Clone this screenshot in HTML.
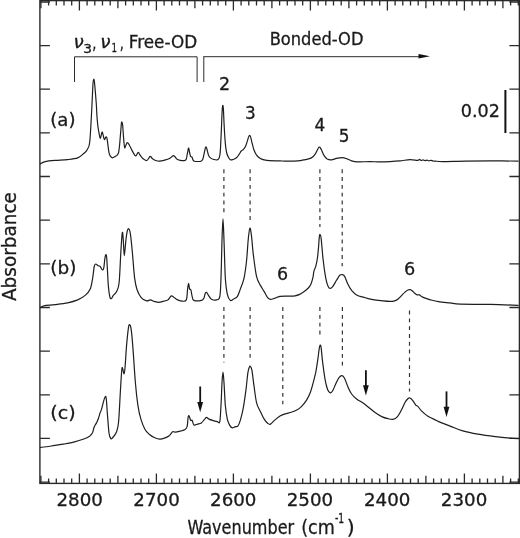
<!DOCTYPE html>
<html><head><meta charset="utf-8"><title>IR spectra</title>
<style>html,body{margin:0;padding:0;background:#fff}svg{display:block}</style></head>
<body><svg width="520" height="538" viewBox="0 0 520 538">
<rect width="520" height="538" fill="#fff"/>
<rect x="39.9" y="0.6" width="479.5" height="482.8" fill="none" stroke="#2a2a2a" stroke-width="1.4"/>
<path d="M518.3 483.4v-5M518.3 0.6v5M510.6 483.4v-5M510.6 0.6v5M502.9 483.4v-7.6M502.9 0.6v7.6M495.2 483.4v-5M495.2 0.6v5M487.5 483.4v-5M487.5 0.6v5M479.8 483.4v-5M479.8 0.6v5M472.1 483.4v-5M472.1 0.6v5M464.4 483.4v-10M464.4 0.6v10M456.7 483.4v-5M456.7 0.6v5M449.0 483.4v-5M449.0 0.6v5M441.3 483.4v-5M441.3 0.6v5M433.6 483.4v-5M433.6 0.6v5M425.9 483.4v-7.6M425.9 0.6v7.6M418.2 483.4v-5M418.2 0.6v5M410.5 483.4v-5M410.5 0.6v5M402.8 483.4v-5M402.8 0.6v5M395.1 483.4v-5M395.1 0.6v5M387.4 483.4v-10M387.4 0.6v10M379.7 483.4v-5M379.7 0.6v5M372.0 483.4v-5M372.0 0.6v5M364.3 483.4v-5M364.3 0.6v5M356.6 483.4v-5M356.6 0.6v5M348.9 483.4v-7.6M348.9 0.6v7.6M341.2 483.4v-5M341.2 0.6v5M333.5 483.4v-5M333.5 0.6v5M325.8 483.4v-5M325.8 0.6v5M318.1 483.4v-5M318.1 0.6v5M310.4 483.4v-10M310.4 0.6v10M302.7 483.4v-5M302.7 0.6v5M295.0 483.4v-5M295.0 0.6v5M287.3 483.4v-5M287.3 0.6v5M279.6 483.4v-5M279.6 0.6v5M271.9 483.4v-7.6M271.9 0.6v7.6M264.2 483.4v-5M264.2 0.6v5M256.5 483.4v-5M256.5 0.6v5M248.8 483.4v-5M248.8 0.6v5M241.1 483.4v-5M241.1 0.6v5M233.4 483.4v-10M233.4 0.6v10M225.7 483.4v-5M225.7 0.6v5M218.0 483.4v-5M218.0 0.6v5M210.3 483.4v-5M210.3 0.6v5M202.6 483.4v-5M202.6 0.6v5M194.9 483.4v-7.6M194.9 0.6v7.6M187.2 483.4v-5M187.2 0.6v5M179.5 483.4v-5M179.5 0.6v5M171.8 483.4v-5M171.8 0.6v5M164.1 483.4v-5M164.1 0.6v5M156.4 483.4v-10M156.4 0.6v10M148.7 483.4v-5M148.7 0.6v5M141.0 483.4v-5M141.0 0.6v5M133.3 483.4v-5M133.3 0.6v5M125.6 483.4v-5M125.6 0.6v5M117.9 483.4v-7.6M117.9 0.6v7.6M110.2 483.4v-5M110.2 0.6v5M102.5 483.4v-5M102.5 0.6v5M94.8 483.4v-5M94.8 0.6v5M87.1 483.4v-5M87.1 0.6v5M79.4 483.4v-10M79.4 0.6v10M71.7 483.4v-5M71.7 0.6v5M64.0 483.4v-5M64.0 0.6v5M56.3 483.4v-5M56.3 0.6v5M48.6 483.4v-5M48.6 0.6v5M40.9 483.4v-7.6M40.9 0.6v7.6M39.9 2.0h10M519.4 2.0h-10M39.9 45.6h10M519.4 45.6h-10M39.9 89.2h10M519.4 89.2h-10M39.9 132.9h10M519.4 132.9h-10M39.9 176.5h10M519.4 176.5h-10M39.9 220.2h10M519.4 220.2h-10M39.9 263.9h10M519.4 263.9h-10M39.9 307.5h10M519.4 307.5h-10M39.9 351.2h10M519.4 351.2h-10M39.9 394.8h10M519.4 394.8h-10M39.9 438.4h10M519.4 438.4h-10M39.9 482.1h10M519.4 482.1h-10" stroke="#2a2a2a" stroke-width="1.3" fill="none"/>
<path d="M40.0 164.1C40.8 163.7 42.5 162.2 45.0 161.6C47.5 161.0 51.3 160.7 55.1 160.4C58.9 160.1 63.8 160.0 67.6 159.6C71.4 159.2 75.0 158.9 77.7 157.9C80.4 156.9 82.4 154.7 84.0 153.3C85.6 151.9 86.3 151.4 87.3 149.4C88.3 147.4 89.1 148.0 89.8 141.5C90.5 135.0 91.2 119.6 91.7 110.2C92.2 100.8 92.6 90.2 92.9 85.0C93.2 79.8 93.5 79.3 93.8 79.2C94.1 79.1 94.3 80.4 94.7 84.5C95.1 88.6 95.9 98.6 96.3 104.0C96.7 109.4 96.7 113.0 97.0 116.7C97.3 120.4 97.6 123.5 97.9 126.2C98.2 128.9 98.6 130.9 99.0 132.9C99.4 134.9 99.9 138.4 100.4 138.3C100.9 138.2 101.5 132.8 102.0 132.2C102.5 131.6 102.7 133.7 103.1 134.9C103.5 136.1 103.9 139.3 104.4 139.6C104.9 139.9 105.5 137.0 106.0 136.9C106.5 136.8 106.8 137.3 107.1 138.9C107.4 140.5 107.8 143.9 108.1 146.3C108.4 148.7 108.7 151.4 109.1 153.1C109.5 154.8 109.9 155.6 110.5 156.4C111.1 157.2 111.7 157.8 112.5 157.8C113.3 157.8 114.4 156.9 115.2 156.4C116.0 155.9 116.6 155.8 117.2 155.1C117.8 154.4 118.2 154.1 118.6 152.4C119.0 150.7 119.3 148.2 119.6 145.0C119.9 141.8 120.3 136.5 120.6 132.9C120.9 129.3 121.2 125.3 121.4 123.5C121.6 121.7 121.7 121.9 121.9 122.1C122.1 122.3 122.3 122.3 122.6 124.8C122.9 127.3 123.2 133.1 123.5 136.9C123.8 140.7 124.2 145.9 124.6 147.4C125.0 148.9 125.2 146.5 125.7 145.7C126.2 144.9 126.7 142.7 127.3 142.6C127.9 142.5 128.5 143.7 129.3 145.0C130.1 146.3 131.1 148.7 132.0 150.4C132.9 152.1 134.0 154.2 134.7 155.1C135.4 156.0 135.4 156.2 136.0 155.8C136.6 155.4 137.6 152.5 138.3 152.4C139.0 152.3 139.3 154.1 140.1 155.1C140.8 156.1 141.7 157.6 142.8 158.5C143.9 159.4 145.6 160.8 146.8 160.5C148.0 160.2 149.3 156.7 150.2 156.4C151.1 156.1 151.3 157.8 152.2 158.5C153.1 159.2 154.4 160.1 155.6 160.5C156.8 160.9 158.0 161.2 159.6 161.1C161.2 161.0 163.8 160.3 165.4 159.9C167.0 159.5 168.3 159.1 169.4 158.5C170.5 157.9 171.4 157.0 172.1 156.5C172.8 156.0 173.1 155.6 173.5 155.6C173.9 155.6 174.2 155.9 174.8 156.5C175.4 157.1 175.9 158.4 176.8 159.0C177.7 159.6 179.0 160.0 180.2 160.3C181.4 160.6 183.2 160.8 184.2 160.6C185.2 160.4 185.7 160.3 186.2 159.2C186.7 158.1 187.0 155.6 187.3 153.8C187.7 152.1 188.1 149.6 188.3 148.7C188.6 147.8 188.6 147.9 188.8 148.5C189.0 149.1 189.3 151.2 189.6 152.5C189.9 153.8 190.3 155.7 190.7 156.5C191.1 157.3 191.6 156.6 192.0 157.2C192.4 157.8 192.6 159.2 193.0 159.9C193.4 160.6 193.5 160.9 194.3 161.2C195.1 161.5 196.6 161.5 197.7 161.5C198.8 161.5 200.2 161.6 201.0 161.2C201.8 160.8 202.3 160.4 202.8 159.2C203.3 158.0 203.7 155.7 204.1 153.8C204.5 151.9 205.1 148.9 205.4 147.8C205.8 146.7 205.9 146.8 206.2 147.1C206.5 147.4 206.7 148.5 207.1 149.8C207.5 151.2 207.9 153.8 208.5 155.2C209.1 156.5 209.6 157.2 210.5 157.9C211.4 158.6 212.7 159.2 213.8 159.5C214.9 159.8 216.3 160.2 217.2 159.9C218.1 159.6 218.7 159.4 219.2 157.9C219.7 156.4 220.0 155.2 220.3 151.1C220.6 147.0 220.9 139.4 221.2 133.6C221.5 127.8 221.7 120.8 221.9 116.2C222.1 111.6 222.4 107.4 222.6 106.1C222.8 104.8 223.1 105.1 223.3 108.1C223.6 111.1 223.8 118.4 224.1 124.2C224.4 130.0 224.9 138.4 225.3 143.1C225.7 147.8 226.1 150.2 226.6 152.5C227.1 154.8 227.8 156.0 228.4 157.2C229.0 158.4 229.6 159.4 230.4 159.8C231.2 160.2 232.1 159.8 233.1 159.5C234.1 159.2 235.4 158.7 236.4 157.8C237.4 157.0 238.3 155.5 239.1 154.4C239.9 153.3 240.5 151.8 241.2 151.0C241.9 150.2 242.5 150.4 243.2 149.7C243.9 149.0 244.5 148.3 245.2 147.0C245.9 145.7 246.6 143.3 247.2 141.6C247.8 139.9 248.2 137.9 248.6 136.9C249.0 135.9 249.3 135.3 249.6 135.3C249.9 135.3 250.2 135.7 250.6 136.9C251.0 138.1 251.3 140.2 251.9 142.3C252.5 144.4 253.1 147.6 253.9 149.7C254.7 151.8 255.6 153.7 256.6 155.1C257.6 156.5 258.8 157.4 260.0 158.2C261.2 159.0 262.4 159.4 264.0 159.8C265.6 160.2 266.7 160.5 269.4 160.7C272.1 160.9 277.4 160.8 280.0 160.9C282.6 161.0 282.1 161.1 285.0 161.1C287.9 161.1 294.2 161.2 297.6 160.9C301.0 160.7 302.8 160.1 305.1 159.6C307.4 159.1 309.7 158.8 311.4 157.9C313.1 157.0 314.1 155.7 315.2 154.1C316.3 152.5 317.4 149.5 318.2 148.3C318.9 147.1 319.2 146.8 319.7 147.1C320.2 147.3 320.7 148.4 321.4 149.8C322.1 151.2 323.0 153.9 324.0 155.4C325.0 156.9 325.9 158.3 327.2 159.1C328.4 159.8 329.9 160.0 331.5 159.9C333.1 159.8 334.7 158.8 336.5 158.4C338.3 158.0 340.6 157.6 342.3 157.6C344.0 157.6 344.9 158.0 346.5 158.6C348.1 159.2 349.7 160.3 351.6 160.9C353.5 161.5 354.7 161.8 357.8 161.9C360.9 162.0 367.0 161.6 370.4 161.6C373.8 161.6 374.6 161.9 377.9 161.9C381.2 161.9 386.3 161.8 390.0 161.6C393.7 161.4 396.7 161.2 400.0 160.9C403.3 160.6 407.1 159.7 410.0 159.6C412.9 159.5 416.0 160.4 417.6 160.4C419.2 160.4 419.0 159.3 419.6 159.3C420.2 159.3 420.4 160.4 421.0 160.5C421.6 160.6 422.3 159.9 423.0 159.9C423.7 159.9 424.3 160.7 425.0 160.7C425.7 160.7 426.3 160.1 427.0 160.1C427.7 160.1 428.3 160.8 429.0 160.8C429.7 160.8 430.3 160.3 431.0 160.3C431.7 160.3 432.3 160.9 433.0 161.0C433.7 161.1 433.6 161.0 435.2 161.1C436.8 161.2 437.7 161.6 442.7 161.6C447.7 161.6 457.4 161.2 465.3 161.1C473.2 161.0 481.5 160.9 490.4 160.9C499.3 160.9 513.8 161.1 518.5 161.1" stroke="#1e1e1e" stroke-width="1.2" fill="none" stroke-linejoin="round"/>
<path d="M40.0 307.9C40.6 307.6 41.3 306.4 43.8 305.9C46.3 305.4 51.1 305.2 55.1 304.7C59.1 304.2 63.8 303.7 67.6 302.9C71.4 302.1 74.8 301.1 77.7 299.9C80.6 298.6 83.1 297.2 85.2 295.4C87.3 293.6 89.0 292.0 90.2 289.1C91.5 286.2 92.0 281.6 92.7 277.8C93.4 274.0 93.7 268.8 94.2 266.5C94.7 264.2 95.0 264.1 95.7 264.0C96.4 263.9 97.5 265.4 98.3 265.8C99.1 266.2 99.6 265.8 100.3 266.5C101.0 267.2 101.7 269.6 102.3 269.8C102.9 270.0 103.4 269.6 103.8 267.8C104.2 266.0 104.5 261.2 104.8 259.0C105.1 256.8 105.5 254.7 105.8 254.7C106.1 254.7 106.4 253.9 106.8 259.0C107.2 264.1 107.8 279.1 108.3 285.4C108.8 291.7 109.3 294.4 109.8 296.6C110.3 298.8 110.7 298.9 111.3 298.7C111.9 298.5 112.4 296.6 113.3 295.4C114.2 294.2 115.6 293.7 116.6 291.6C117.6 289.5 118.4 289.3 119.1 282.8C119.8 276.3 120.3 261.1 120.8 252.7C121.3 244.3 121.9 234.8 122.3 232.7C122.7 230.6 123.0 236.4 123.3 240.2C123.6 244.0 123.9 255.7 124.3 255.7C124.7 255.7 125.4 244.4 125.9 240.2C126.4 236.0 126.9 232.6 127.4 230.7C127.9 228.8 128.4 228.4 128.9 228.9C129.4 229.4 129.8 229.9 130.4 233.9C131.0 237.9 131.7 245.4 132.4 252.7C133.1 260.0 133.8 271.7 134.6 277.8C135.4 283.9 135.9 286.2 137.0 289.5C138.1 292.8 139.4 295.4 141.0 297.3C142.6 299.2 144.9 300.5 146.5 300.9C148.1 301.3 149.2 299.8 150.5 299.9C151.8 300.0 152.8 301.0 154.2 301.4C155.6 301.8 157.2 302.4 158.8 302.4C160.4 302.4 162.2 301.6 163.8 301.2C165.4 300.8 166.8 300.6 168.1 299.7C169.3 298.8 170.4 296.3 171.3 295.9C172.2 295.5 172.8 296.5 173.8 297.2C174.9 297.9 176.1 299.2 177.6 299.9C179.1 300.6 181.1 301.2 182.6 301.2C184.1 301.2 185.6 301.7 186.4 299.7C187.2 297.7 187.2 291.8 187.6 289.1C188.0 286.4 188.3 283.3 188.6 283.3C188.9 283.3 189.2 288.0 189.6 289.1C190.0 290.2 190.5 288.6 190.9 289.9C191.3 291.1 191.7 294.9 192.2 296.6C192.7 298.4 192.4 299.8 193.9 300.4C195.4 301.0 199.7 300.8 201.4 300.4C203.1 300.0 203.4 299.1 204.0 297.9C204.6 296.7 204.8 294.3 205.2 293.4C205.6 292.5 206.1 292.1 206.7 292.4C207.2 292.7 207.7 294.3 208.5 295.4C209.3 296.5 210.2 298.4 211.5 299.2C212.8 299.9 215.1 300.3 216.5 299.9C217.9 299.5 219.1 300.3 219.8 296.6C220.6 292.9 220.6 287.2 221.0 277.8C221.4 268.4 221.7 250.0 222.0 240.2C222.3 230.4 222.7 218.9 223.0 218.9C223.3 218.9 223.6 230.4 224.0 240.2C224.4 250.0 224.8 268.8 225.3 277.8C225.9 286.8 226.5 290.3 227.3 294.1C228.1 297.9 229.3 299.5 230.3 300.4C231.3 301.2 232.1 299.8 233.3 299.2C234.5 298.6 236.1 298.3 237.3 296.6C238.5 294.9 239.2 292.2 240.3 289.1C241.4 286.0 243.1 282.6 244.1 277.8C245.1 273.0 245.9 267.0 246.6 260.3C247.3 253.6 247.8 243.1 248.4 237.7C249.0 232.3 249.4 228.5 249.9 228.1C250.4 227.7 250.8 230.7 251.4 235.2C252.0 239.7 252.5 248.3 253.4 255.2C254.3 262.1 255.4 271.6 256.6 276.6C257.8 281.6 259.1 282.9 260.4 285.4C261.7 287.9 263.0 289.6 264.2 291.6C265.4 293.6 266.6 296.3 267.6 297.6C268.6 298.9 269.3 299.2 270.4 299.3C271.5 299.4 272.6 298.9 274.2 298.4C275.8 297.9 277.7 296.8 280.0 296.4C282.3 296.0 285.6 296.2 288.1 296.1C290.6 296.0 293.1 296.1 295.0 295.8C296.9 295.5 298.1 295.1 299.6 294.4C301.1 293.7 302.7 292.6 304.2 291.5C305.7 290.4 307.6 288.8 308.8 287.5C310.0 286.2 310.5 285.1 311.2 283.5C311.9 281.9 312.4 279.8 312.9 277.7C313.4 275.6 313.5 272.7 314.0 270.8C314.5 268.9 315.2 268.4 315.8 266.2C316.4 264.0 317.1 260.6 317.5 257.5C317.9 254.4 318.2 251.2 318.5 247.7C318.8 244.2 319.1 238.6 319.4 236.4C319.7 234.2 319.9 234.3 320.2 234.7C320.5 235.1 320.7 234.6 321.2 238.9C321.7 243.2 322.4 253.8 323.2 260.3C323.9 266.8 324.9 273.4 325.7 277.8C326.5 282.2 327.4 284.8 328.2 286.6C328.9 288.4 329.4 288.4 330.2 288.4C330.9 288.4 331.6 288.0 332.7 286.6C333.8 285.2 335.3 282.2 336.5 280.3C337.7 278.4 338.8 276.2 339.8 275.3C340.8 274.4 341.5 274.4 342.3 274.6C343.1 274.8 343.9 275.0 344.8 276.6C345.7 278.2 346.7 281.8 347.8 284.1C348.9 286.4 350.1 288.6 351.6 290.4C353.1 292.2 354.5 293.7 356.6 294.9C358.7 296.1 361.4 296.6 364.1 297.4C366.8 298.2 369.8 299.1 372.9 299.7C376.0 300.3 380.0 300.6 382.9 300.9C385.8 301.2 388.1 301.4 390.0 301.4C391.9 301.4 393.2 301.2 394.6 300.8C396.0 300.4 397.0 299.9 398.1 299.0C399.2 298.1 400.4 296.8 401.5 295.6C402.6 294.5 403.9 293.0 405.0 292.1C406.1 291.2 407.0 290.4 407.9 290.0C408.8 289.6 409.4 289.4 410.2 289.6C411.0 289.8 411.7 290.4 412.5 291.0C413.3 291.6 414.0 292.7 414.8 293.3C415.6 293.9 416.3 294.6 417.1 294.8C417.9 295.1 418.7 294.6 419.4 294.8C420.1 295.0 420.3 295.7 421.2 296.2C422.1 296.7 423.1 297.3 424.6 297.9C426.1 298.5 428.1 299.2 430.4 299.8C432.7 300.4 435.2 301.1 438.5 301.6C441.8 302.1 446.4 302.5 450.0 302.9C453.6 303.3 453.6 303.9 460.3 304.2C467.0 304.4 480.7 304.2 490.4 304.4C500.1 304.6 513.8 305.2 518.5 305.4" stroke="#1e1e1e" stroke-width="1.2" fill="none" stroke-linejoin="round"/>
<path d="M40.0 447.6C41.9 447.3 47.6 446.6 51.5 446.0C55.4 445.4 59.2 444.9 63.1 444.2C67.0 443.5 71.1 442.8 74.6 441.9C78.0 441.0 81.3 439.9 83.8 439.0C86.3 438.1 88.1 437.2 89.6 436.2C91.0 435.1 91.7 434.2 92.5 432.7C93.3 431.1 93.5 428.5 94.2 426.9C94.9 425.3 95.8 424.2 96.5 422.9C97.2 421.5 97.7 420.4 98.3 418.8C98.9 417.2 99.5 414.7 100.0 413.1C100.5 411.5 100.9 411.3 101.5 409.4C102.1 407.5 102.9 403.7 103.5 401.6C104.1 399.5 104.8 397.0 105.3 396.6C105.8 396.2 105.9 396.0 106.3 399.1C106.7 402.2 107.0 409.8 107.5 415.4C108.0 421.0 108.5 429.1 109.0 433.0C109.5 436.9 110.2 437.8 110.8 438.5C111.4 439.2 111.8 438.6 112.8 437.5C113.8 436.4 115.6 434.3 116.6 431.7C117.6 429.1 118.0 428.2 118.6 421.7C119.2 415.2 119.8 401.5 120.3 392.8C120.8 384.1 121.4 373.7 121.8 369.7C122.2 365.7 122.4 368.3 122.8 369.0C123.2 369.7 123.6 374.0 123.9 374.0C124.2 374.0 124.5 373.8 124.9 369.0C125.4 364.2 126.0 351.9 126.6 345.1C127.2 338.3 127.9 331.5 128.4 328.1C128.9 324.7 129.2 324.5 129.6 324.6C130.0 324.7 130.5 325.0 131.1 328.8C131.7 332.6 132.2 338.6 132.9 347.6C133.6 356.6 134.6 373.2 135.4 382.8C136.2 392.4 137.0 399.3 137.9 405.4C138.8 411.5 139.7 415.2 140.9 419.2C142.1 423.2 143.5 426.7 144.9 429.2C146.3 431.7 147.6 432.8 149.2 434.2C150.8 435.6 152.4 436.7 154.2 437.5C156.0 438.3 158.2 439.1 160.0 439.2C161.8 439.3 163.5 438.5 165.1 437.9C166.7 437.3 168.3 436.4 169.6 435.4C170.8 434.4 171.7 432.2 172.6 431.7C173.5 431.2 173.8 432.3 175.1 432.2C176.3 432.1 178.5 431.6 180.1 431.2C181.7 430.8 183.4 430.5 184.6 429.7C185.8 428.9 186.5 428.7 187.1 426.6C187.7 424.6 187.8 419.2 188.1 417.4C188.4 415.6 188.7 415.4 189.1 415.9C189.5 416.4 190.2 419.6 190.7 420.4C191.2 421.1 191.7 419.6 192.2 420.4C192.7 421.1 193.0 424.3 193.9 424.9C194.8 425.5 196.4 424.4 197.7 424.1C198.9 423.8 200.2 423.7 201.4 422.9C202.6 422.1 203.8 420.0 204.7 419.1C205.5 418.2 205.8 417.4 206.5 417.4C207.2 417.4 208.0 418.6 209.0 419.1C210.0 419.6 211.3 420.0 212.7 420.4C214.1 420.8 216.1 421.4 217.3 421.6C218.5 421.8 219.2 424.3 219.8 421.6C220.4 418.9 220.6 411.8 221.0 405.3C221.4 398.8 221.7 388.2 222.0 382.7C222.3 377.2 222.7 372.2 223.0 372.2C223.3 372.2 223.6 377.2 224.0 382.7C224.4 388.2 224.8 399.2 225.3 405.3C225.9 411.4 226.6 415.8 227.3 419.1C228.1 422.5 229.0 423.9 229.8 425.4C230.6 426.9 231.4 427.7 232.3 427.9C233.2 428.1 234.4 426.9 235.3 426.6C236.2 426.3 237.0 427.1 237.8 426.1C238.6 425.1 239.4 423.4 240.3 420.4C241.2 417.3 242.4 412.8 243.3 407.8C244.2 402.8 245.1 396.2 245.9 390.3C246.7 384.4 247.3 376.6 247.9 372.7C248.5 368.8 249.0 367.9 249.4 366.9C249.8 365.8 250.0 365.8 250.4 366.4C250.8 366.9 251.3 367.1 251.9 370.2C252.5 373.3 253.1 379.8 253.9 385.2C254.7 390.6 255.5 398.4 256.6 402.8C257.7 407.2 259.1 408.9 260.4 411.6C261.7 414.3 262.9 417.1 264.2 419.1C265.4 421.1 266.8 422.6 267.9 423.4C268.9 424.2 269.3 424.7 270.5 424.1C271.7 423.5 273.4 421.2 275.0 419.9C276.6 418.6 278.3 417.1 280.0 416.1C281.7 415.1 283.2 414.5 285.1 413.9C287.0 413.3 289.4 412.9 291.3 412.3C293.2 411.7 294.6 411.2 296.3 410.3C298.0 409.4 299.7 408.3 301.4 406.6C303.1 404.9 304.9 402.6 306.4 400.3C307.9 398.0 309.1 395.7 310.2 392.8C311.3 389.9 312.3 386.1 313.2 382.7C314.1 379.3 314.9 376.4 315.7 372.7C316.4 368.9 317.1 364.2 317.7 360.2C318.3 356.2 318.8 351.4 319.2 348.9C319.6 346.4 319.9 345.2 320.2 345.1C320.5 345.0 320.8 345.2 321.2 348.1C321.6 351.0 322.0 357.4 322.7 362.7C323.4 368.0 324.4 375.7 325.2 380.2C326.0 384.7 326.9 387.7 327.7 389.8C328.5 391.9 329.4 392.6 330.2 392.8C331.0 393.0 331.8 392.3 332.7 390.8C333.6 389.3 334.6 386.2 335.7 384.0C336.8 381.8 337.9 379.1 339.0 377.7C340.1 376.3 341.1 375.6 342.0 375.7C342.9 375.8 343.5 376.4 344.5 378.2C345.5 380.0 346.6 383.9 347.8 386.5C349.0 389.1 350.1 391.9 351.6 394.0C353.1 396.1 354.7 397.5 356.6 399.0C358.5 400.5 360.7 401.3 362.8 402.8C364.9 404.3 367.0 406.1 369.1 407.8C371.2 409.5 373.3 411.3 375.4 412.8C377.5 414.3 379.6 415.6 381.7 416.6C383.8 417.6 386.0 418.2 387.9 418.6C389.8 419.1 391.4 419.6 393.0 419.3C394.6 419.0 396.1 418.1 397.5 416.6C398.9 415.1 400.0 412.7 401.3 410.3C402.6 407.9 404.0 404.3 405.1 402.3C406.2 400.3 407.3 399.2 408.1 398.5C408.9 397.8 409.4 397.7 410.1 398.0C410.9 398.3 411.7 399.2 412.6 400.3C413.5 401.4 414.7 403.8 415.6 404.8C416.5 405.9 417.1 405.6 418.1 406.6C419.1 407.6 419.8 409.2 421.4 410.8C423.0 412.4 424.9 414.4 427.6 416.1C430.3 417.8 433.9 419.4 437.7 421.1C441.5 422.8 446.0 424.5 450.2 426.1C454.4 427.7 458.2 429.5 462.8 430.9C467.4 432.2 472.4 433.2 477.8 434.2C483.2 435.2 488.6 435.9 495.4 436.7C502.2 437.4 514.6 438.4 518.5 438.7" stroke="#1e1e1e" stroke-width="1.2" fill="none" stroke-linejoin="round"/>
<path d="M223.9 169.3V212.6M250.1 169.3V220M319.9 169.3V226.9M342.2 169.3V266.2M223.9 307.1V362.6M250.1 307.1V359.3M282.8 307.1V404.3M319.9 307.1V336.5M342.4 307.1V366M409.5 310.6V391.5" stroke="#333" stroke-width="1.2" stroke-dasharray="3.9 3.9" fill="none"/>
<path d="M74.5 82V56.8H197.1V82M203.8 82V56.8" stroke="#2a2a2a" stroke-width="1" fill="none"/>
<path d="M203.3 56.7H420" stroke="#2a2a2a" stroke-width="1" fill="none"/>
<path d="M430 56.3L418.5 54V58.6Z" fill="#111"/>
<path d="M505.4 90V133" stroke="#111" stroke-width="2" fill="none"/>
<path d="M200.2 386.5V404.2" stroke="#111" stroke-width="1.8" fill="none"/><path d="M200.2 412.2L197.29999999999998 401.9H203.1Z" fill="#111"/>
<path d="M365.9 370.3V387.6" stroke="#111" stroke-width="1.8" fill="none"/><path d="M365.9 395.6L363.0 385.3H368.79999999999995Z" fill="#111"/>
<path d="M446.5 391.4V409.0" stroke="#111" stroke-width="1.8" fill="none"/><path d="M446.5 417.0L443.6 406.7H449.4Z" fill="#111"/>
<g font-family="'DejaVu Sans','Liberation Sans',sans-serif" fill="#1a1a1a" stroke="#1a1a1a" stroke-width="0.3"><text font-size="17.8"  transform="translate(56.47 506.0) scale(1.024 1)">2800</text><text font-size="17.8"  transform="translate(133.37 506.0) scale(1.024 1)">2700</text><text font-size="17.8"  transform="translate(210.07 506.0) scale(1.024 1)">2600</text><text font-size="17.8"  transform="translate(286.77 506.0) scale(1.024 1)">2500</text><text font-size="17.8"  transform="translate(363.97 506.0) scale(1.024 1)">2400</text><text font-size="17.8"  transform="translate(440.87 506.0) scale(1.024 1)">2300</text><text font-size="18.2"  transform="translate(218.95 90.1) scale(0.962 1)">2</text><text font-size="18.2"  transform="translate(245.08 119.3) scale(0.926 1)">3</text><text font-size="18.2"  transform="translate(314.53 131.1) scale(0.933 1)">4</text><text font-size="18.2"  transform="translate(338.87 142.4) scale(0.928 1)">5</text><text font-size="18.2"  transform="translate(277.05 280.0) scale(0.962 1)">6</text><text font-size="18.2"  transform="translate(403.93 275.1) scale(0.973 1)">6</text><text font-size="18"  transform="translate(460.75 116.5) scale(0.977 1)">0.02</text><text font-size="18.4"  transform="translate(50.27 126.0) scale(0.986 1)">(a)</text><text font-size="18.4"  transform="translate(50.24 273.5) scale(1.004 1)">(b)</text><text font-size="18.4"  transform="translate(50.29 418.5) scale(1.039 1)">(c)</text><text font-size="16.8"  transform="translate(269.67 45.0) scale(0.970 1)">Bonded-OD</text><text font-size="16.8"  transform="translate(128.72 47.9) scale(1.001 1)">Free-OD</text><text font-size="17.2" font-style="italic" transform="translate(73.46 48.2) scale(1.062 1)">ν</text><text font-size="12.9"  transform="translate(83.22 52.5) scale(1.067 1)">3</text><text font-size="18"  transform="translate(92.25 48.6) scale(0.724 1)">,</text><text font-size="17.2" font-style="italic" transform="translate(100.36 48.2) scale(1.062 1)">ν</text><text font-size="12.9"  transform="translate(111.42 52.2) scale(0.678 1)">1</text><text font-size="18"  transform="translate(119.75 48.6) scale(0.724 1)">,</text><text font-size="19"  transform="translate(187.42 534.2) scale(0.846 1)">Wavenumber</text><text font-size="19"  transform="translate(301.25 534.2) scale(0.924 1)">(cm</text><text font-size="13.5"  transform="translate(335.02 523.2) scale(0.688 1)">-1</text><text font-size="19"  transform="translate(346.64 534.2) scale(1.074 1)">)</text><text font-size="19"  transform="translate(15.5 301.02) rotate(-90) scale(0.971 1)">Absorbance</text></g>
</svg></body></html>
